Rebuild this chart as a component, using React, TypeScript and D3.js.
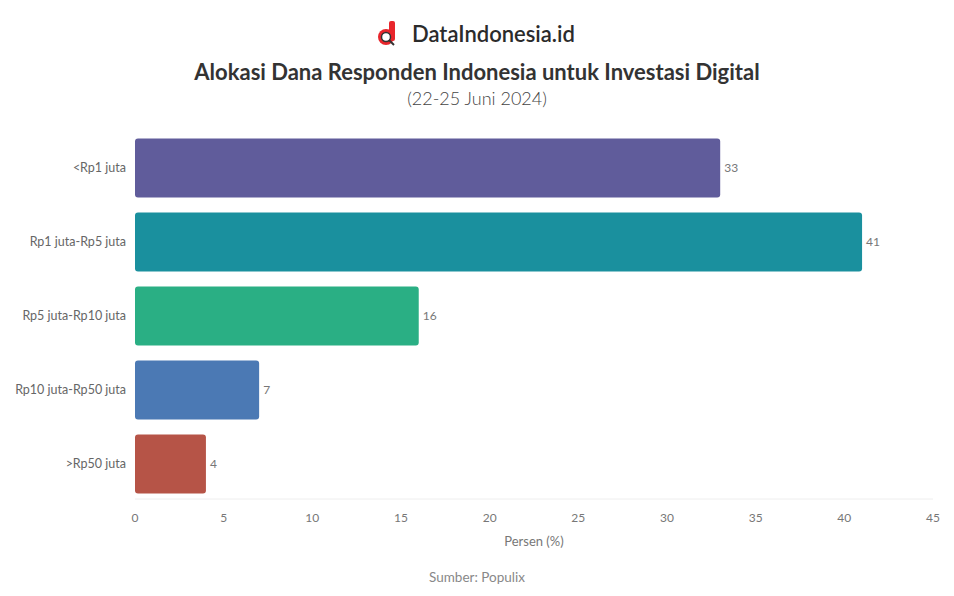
import { useRef, useEffect } from 'react';
import * as d3 from 'd3';

const categories = [
  '<Rp1 juta',
  'Rp1 juta-Rp5 juta',
  'Rp5 juta-Rp10 juta',
  'Rp10 juta-Rp50 juta',
  '>Rp50 juta',
];
const values = [33, 41, 16, 7, 4];
const colors = ['#605c9b', '#1a909e', '#2aaf84', '#4b79b4', '#b65447'];
const xTicks = [0, 5, 10, 15, 20, 25, 30, 35, 40, 45];

const width = 954;
const height = 596;
const font = 'Lato, "Noto Sans", sans-serif';

export default function App() {
  const ref = useRef<SVGSVGElement>(null);

  useEffect(() => {
    if (!ref.current) return;
    const svg = d3.select(ref.current);
    svg.selectAll('*').remove();

    const x = d3.scaleLinear().domain([0, 45]).range([135, 933]);
    const y = d3
      .scaleBand()
      .domain(categories)
      .range([123.6, 508.4])
      .paddingInner(0.2)
      .paddingOuter(0.2);

    // logo
    const logo = svg.append('g').attr('transform', 'translate(386,35)');
    logo.append('rect').attr('x', 3).attr('y', -14).attr('width', 6).attr('height', 20).attr('rx', 2).attr('fill', '#e8262c');
    logo.append('circle').attr('r', 8).attr('cx', 0).attr('cy', 2).attr('fill', '#e8262c');
    logo.append('circle').attr('r', 4.5).attr('cx', 0).attr('cy', 2).attr('fill', '#fff').attr('stroke', '#333').attr('stroke-width', 1.5);
    logo.append('line').attr('x1', 3).attr('y1', 5).attr('x2', 8).attr('y2', 10).attr('stroke', '#333').attr('stroke-width', 2);
    svg
      .append('text')
      .attr('x', 412)
      .attr('y', 42)
      .attr('font-family', font)
      .attr('font-size', 22)
      .attr('font-weight', 600)
      .attr('fill', '#2b2b2b')
      .text('DataIndonesia.id');

    svg
      .append('text')
      .attr('x', 477)
      .attr('y', 80)
      .attr('text-anchor', 'middle')
      .attr('font-family', font)
      .attr('font-size', 22)
      .attr('font-weight', 700)
      .attr('fill', '#333')
      .text('Alokasi Dana Responden Indonesia untuk Investasi Digital');

    svg
      .append('text')
      .attr('x', 477)
      .attr('y', 105)
      .attr('text-anchor', 'middle')
      .attr('font-family', font)
      .attr('font-size', 18)
      .attr('font-weight', 300)
      .attr('fill', '#444')
      .text('(22-25 Juni 2024)');

    svg
      .append('line')
      .attr('x1', 135)
      .attr('x2', 933)
      .attr('y1', 499)
      .attr('y2', 499)
      .attr('stroke', '#eeeeee');

    const data = categories.map((c, i) => ({ c, v: values[i], color: colors[i] }));

    svg
      .selectAll('rect.bar')
      .data(data)
      .join('rect')
      .attr('class', 'bar')
      .attr('x', x(0))
      .attr('y', (d) => y(d.c) || 0)
      .attr('width', (d) => x(d.v) - x(0))
      .attr('height', y.bandwidth())
      .attr('rx', 3)
      .attr('fill', (d) => d.color);

    svg
      .selectAll('text.val')
      .data(data)
      .join('text')
      .attr('class', 'val')
      .attr('x', (d) => x(d.v) + 4)
      .attr('y', (d) => (y(d.c) || 0) + y.bandwidth() / 2)
      .attr('dy', '0.35em')
      .attr('font-family', font)
      .attr('font-size', 12)
      .attr('fill', '#777')
      .text((d) => d.v);

    svg
      .selectAll('text.cat')
      .data(data)
      .join('text')
      .attr('class', 'cat')
      .attr('x', 126)
      .attr('y', (d) => (y(d.c) || 0) + y.bandwidth() / 2)
      .attr('dy', '0.35em')
      .attr('text-anchor', 'end')
      .attr('font-family', font)
      .attr('font-size', 12.5)
      .attr('fill', '#666')
      .text((d) => d.c);

    svg
      .selectAll('text.tick')
      .data(xTicks)
      .join('text')
      .attr('class', 'tick')
      .attr('x', (d) => x(d))
      .attr('y', 518)
      .attr('dy', '0.35em')
      .attr('text-anchor', 'middle')
      .attr('font-family', font)
      .attr('font-size', 12)
      .attr('fill', '#777')
      .text((d) => d);

    svg
      .append('text')
      .attr('x', x(22.5))
      .attr('y', 546)
      .attr('text-anchor', 'middle')
      .attr('font-family', font)
      .attr('font-size', 13)
      .attr('fill', '#777')
      .text('Persen (%)');

    svg
      .append('text')
      .attr('x', 477)
      .attr('y', 582)
      .attr('text-anchor', 'middle')
      .attr('font-family', font)
      .attr('font-size', 13.5)
      .attr('fill', '#888')
      .text('Sumber: Populix');
  }, []);

  return (
    <svg
      ref={ref}
      width={width}
      height={height}
      style={{ position: 'absolute', left: 0, top: 0, background: '#fff' }}
    ></svg>
  );
}
